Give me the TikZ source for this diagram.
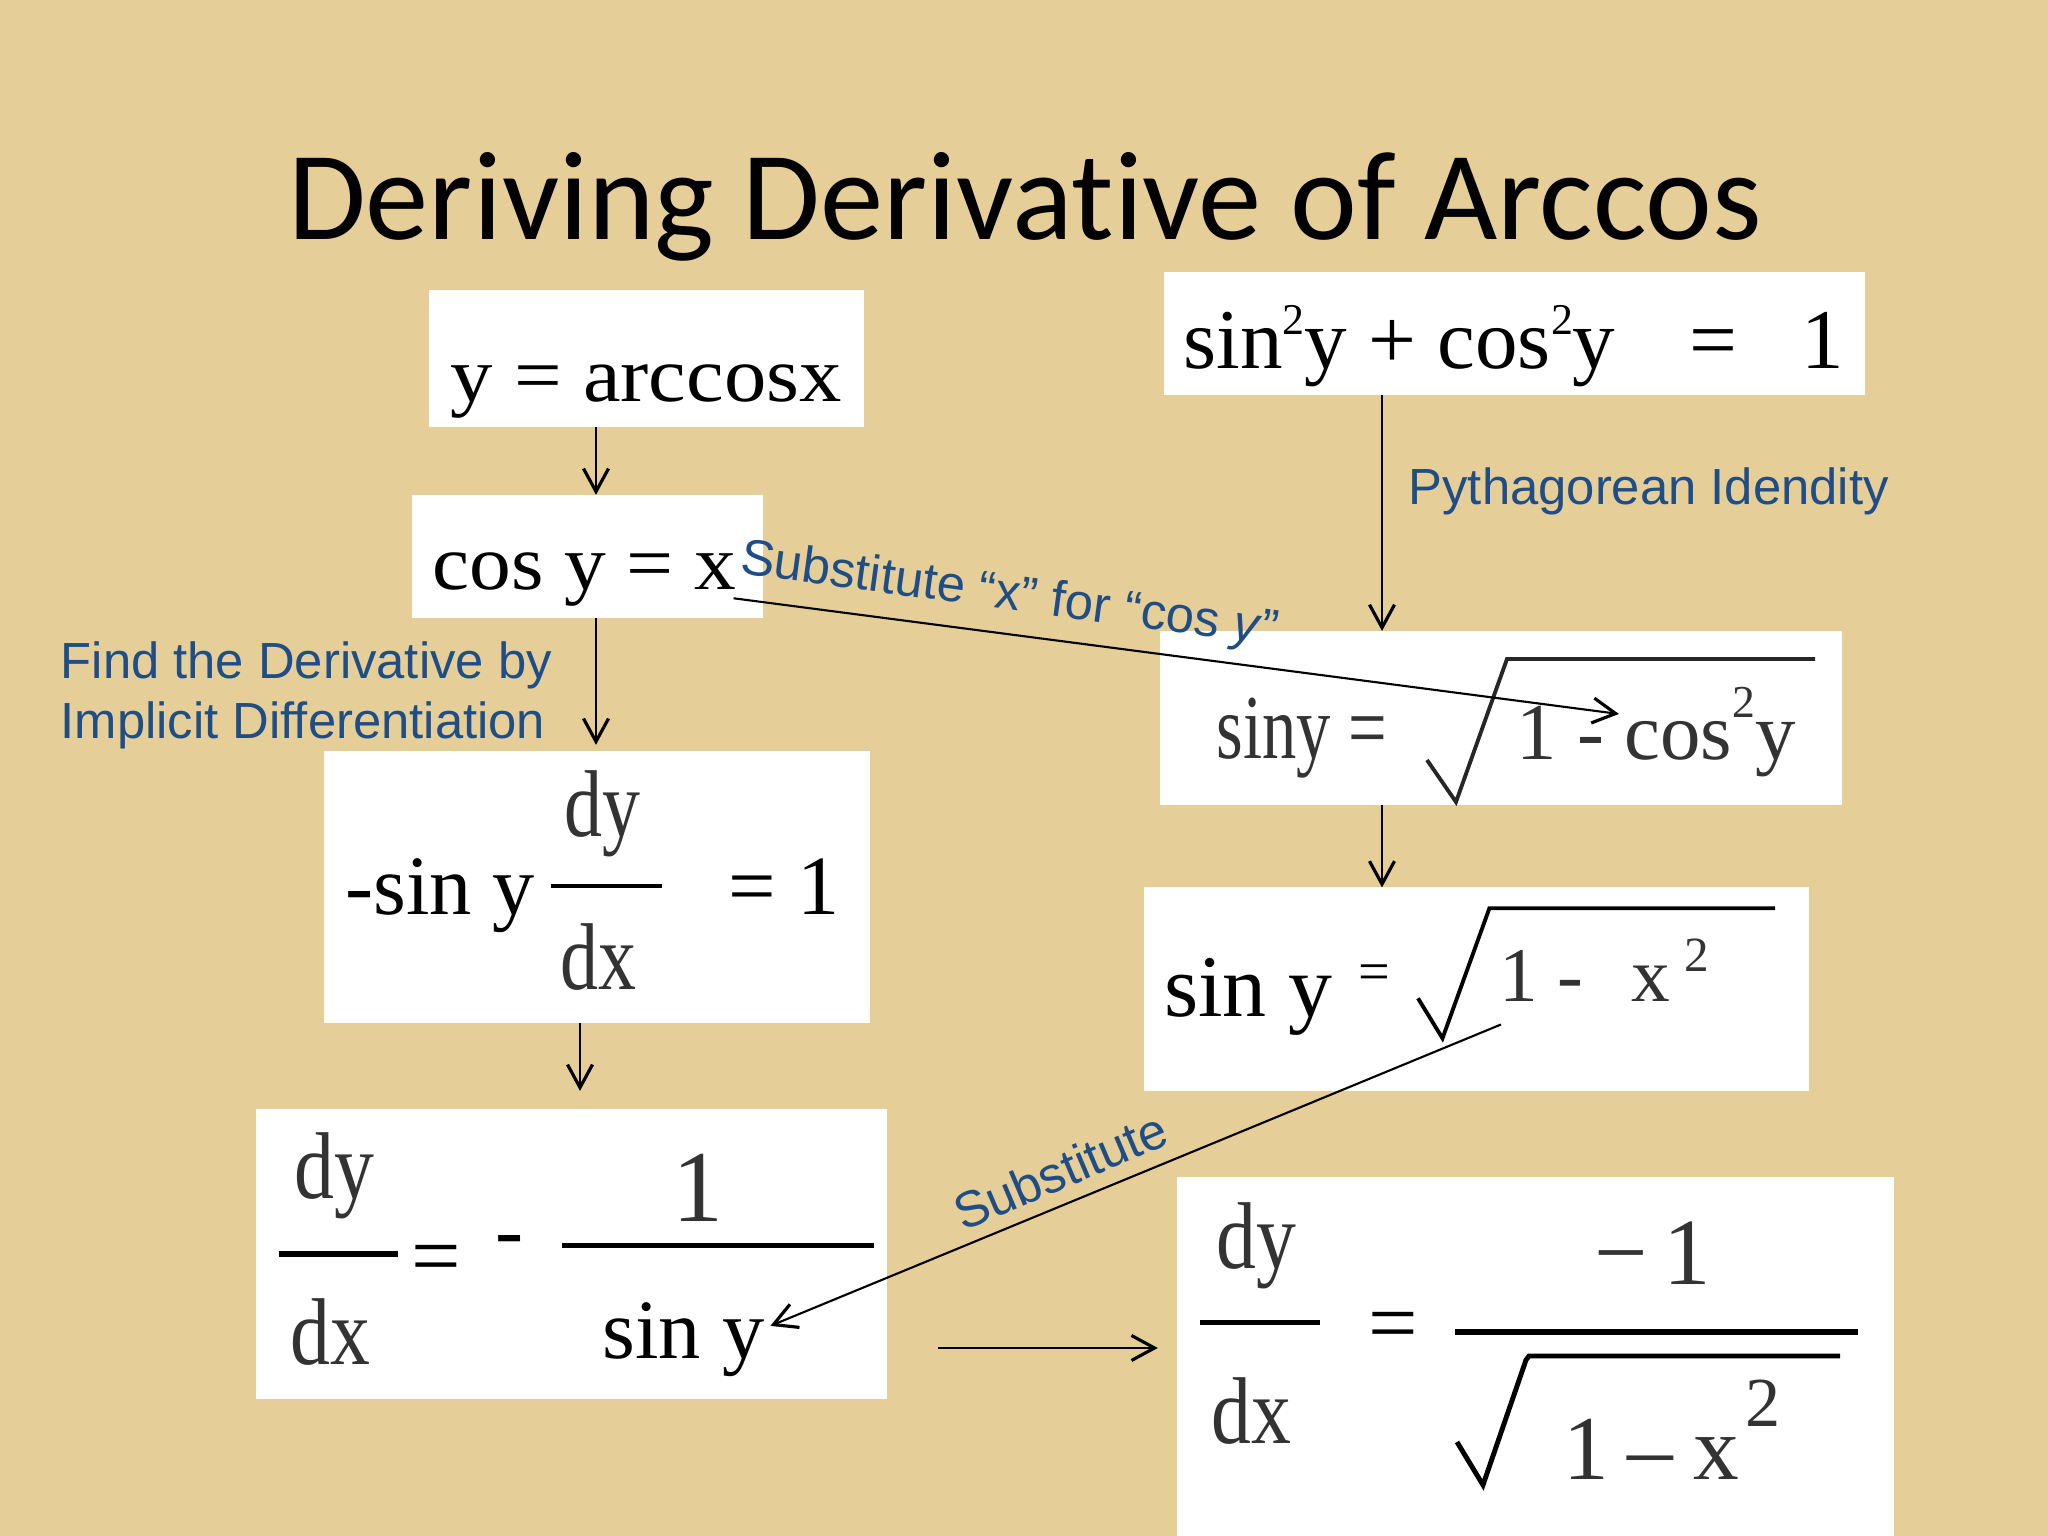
\documentclass[tikz,border=0pt]{standalone}
\usepackage{fontspec}
\setmainfont{Liberation Serif}
\newfontfamily\titlefont[Ligatures={NoCommon}, RawFeature={-liga;-clig;-dlig}]{Carlito}
\newfontfamily\labelfont{Liberation Sans}
\usetikzlibrary{arrows.meta}
\definecolor{paper}{RGB}{229,206,152}
\definecolor{lblblue}{RGB}{31,78,135}
\newcommand{\eqfs}[1]{\fontsize{#1}{#1}\selectfont}
\newcommand{\suptwo}[2]{\raisebox{#1}{\fontsize{#2}{#2}\selectfont 2}}
\tikzset{eqbox/.style={fill=white, inner sep=0pt, outer sep=0pt},
eqtext/.style={inner sep=0pt, anchor=base west},
frac/.style={inner sep=0pt, anchor=base, text=black!80},
lbl/.style={inner sep=0pt, anchor=base west, text=lblblue, font=\labelfont\eqfs{14.45}},
arr/.style={line width=0.6pt, -{Straight Barb[length=2.3mm,width=2.5mm,line width=0.9pt]}},
%default bar is 1.5pt
fracbar/.style={line width=#1},
fracbar/.default={1.5pt}}

\begin{document}
\begin{tikzpicture}

\useasboundingbox (0,0) rectangle (20.48,15.36);
\fill[paper] (0,0) rectangle (20.48,15.36);

\node[inner sep=0pt, anchor=base, font=\titlefont\eqfs{36}] (title) at (10.25,12.96) {Deriving Derivat\kern0pt ive of Arccos};

% left column
\node[eqbox, minimum width=4.35cm, minimum height=1.37cm] (arccos) at (6.46,11.775) {};
\node[eqbox, minimum width=3.51cm, minimum height=1.23cm] (cosx) at (5.871,9.796) {};
\node[eqbox, minimum width=5.46cm, minimum height=2.72cm] (implicit) at (5.969,6.491) {};
\node[eqbox, minimum width=6.31cm, minimum height=2.90cm] (result) at (5.714,2.821) {};
% right column
\node[eqbox, minimum width=7.01cm, minimum height=1.23cm] (pyth) at (15.14,12.02) {};
\node[eqbox, minimum width=6.82cm, minimum height=1.74cm] (sinroot) at (15.009,8.18) {};
\node[eqbox, minimum width=6.65cm, minimum height=2.04cm] (sinx) at (14.76,5.465) {};
\node[eqbox, minimum width=7.17cm, minimum height=3.59cm] (final) at (15.353,1.796) {};

\node[eqtext, font=\eqfs{22.2}] (arccostxt) at (4.50,11.343) {\scalebox{1.085}[1]{y = arccosx}};
\node[eqtext, font=\eqfs{22.2}] (cosxtxt) at (4.315,9.46) {\scalebox{1.07}[1]{cos y = x}};

% -sin y dy/dx = 1
\node[eqtext, font=\eqfs{24}] (implicittxt) at (3.445,6.21) {-sin y};
\draw[fracbar=1.1pt] (5.507,6.503) -- (6.617,6.503);
\node[frac, font=\eqfs{27}] (dy1) at (6.02,6.993) {\scalebox{0.8}[1]{dy}};
\node[frac, font=\eqfs{27}] (dx1) at (5.985,5.46) {\scalebox{0.8}[1]{dx}};
\node[eqtext, font=\eqfs{24}] (one1) at (7.28,6.21) {= 1};

% dy/dx = -1/sin y
\node[frac, font=\eqfs{27}] (dy2) at (3.343,3.377) {\scalebox{0.84}[1]{dy}};
\draw[fracbar] (2.79,2.82) -- (3.983,2.82);
\node[frac, font=\eqfs{27}] (dx2) at (3.30,1.71) {\scalebox{0.84}[1]{dx}};
\node[eqtext, font=\eqfs{25}] (eq2) at (4.11,2.503) {=};
\node[eqtext, font=\eqfs{24}] (minus2) at (4.947,2.773) {-};
\node[frac, font=\eqfs{29}] (one2) at (6.975,3.143) {1};
\draw[fracbar] (5.618,2.903) -- (8.74,2.903);
\node[eqtext, font=\eqfs{24}] (siny2) at (6.02,1.777) {sin y};

% identity
\node[eqtext, font=\eqfs{24.2}] (pythtxt) at (11.827,11.677) {sin\suptwo{0.4em}{12.5}y + cos\suptwo{0.4em}{12.5}y\hspace{0.74cm}=\hspace{0.64cm}1};

% sin y = root(1 - cos^2 y)
\node[eqtext, font=\eqfs{26}, text=black!80] (sinroottxt) at (12.16,7.777) {\scalebox{0.75}[1]{siny =}};
\draw[line width=1.1pt, black!85] (14.27,7.76) -- (14.56,7.34) -- (15.07,8.77) -- (18.15,8.77);
\node[eqtext, font=\eqfs{23}, text=black!80] (cos2txt) at (15.16,7.76) {1 - cos\suptwo{0.52em}{13}y};

% sin y = root(1 - x^2)
\node[eqtext, font=\eqfs{25}] (sinxtxt) at (11.635,5.193) {sin y};
\node[eqtext, font=\eqfs{16}] (eq3) at (13.58,5.45) {=};
\draw[line width=1.1pt] (14.18,5.377) -- (14.425,4.977) -- (14.894,6.277) -- (17.75,6.277);
\node[eqtext, font=\eqfs{22}, text=black!80] (x2txt) at (14.99,5.34) {1 -\hspace{0.48cm}x\hspace{0.14cm}\suptwo{0.39em}{14}};

% final result
\node[frac, font=\eqfs{27}] (dy3) at (12.568,2.677) {\scalebox{0.84}[1]{dy}};
\draw[fracbar] (12.00,2.137) -- (13.195,2.137);
\node[frac, font=\eqfs{27}] (dx3) at (12.51,0.927) {\scalebox{0.84}[1]{dx}};
\node[eqtext, font=\eqfs{25}] (eq4) at (13.674,1.83) {=};
\node[eqtext, font=\eqfs{27}, text=black!80] (mone) at (15.935,2.51) {\char"2212\,1};
\draw[fracbar=1.8pt] (14.55,2.043) -- (18.575,2.043);
\draw[line width=1.4pt] (14.57,0.94) -- (14.83,0.51) -- (15.26,1.76) -- (15.29,1.80) -- (18.40,1.80);
\node[eqtext, font=\eqfs{26}, text=black!80] (onex) at (15.63,0.56) {1\hspace{0.18cm}–\hspace{0.2cm}x};
\node[eqtext, font=\eqfs{20}, text=black!80] (sq4) at (17.45,1.093) {2};

% labels
\node[lbl] (pythlbl) at (14.08,10.31) {Pythagorean Idendity};
\node[lbl] (findlbl) at (0.60,8.577) {Find the Derivative by};
\node[lbl] (findlbl2) at (0.60,7.97) {Implicit Differentiation};
\node[lbl, rotate=-7.7] (sublbl) at (7.385,9.627) {Substitute “x” for “cos \textit{y}”};
\node[lbl, rotate=23] (sublbl2) at (9.63,3.043) {Substitute};

% arrows
\coordinate (colL) at (5.96,0);
\coordinate (colM) at (5.80,0);
\coordinate (colR) at (13.82,0);
\coordinate (rowH) at (0,1.88);
\draw[arr] (arccos.south -| colL) -- (cosx.north -| colL);
\draw[arr, shorten >=0.6mm] (cosx.south -| colL) -- (implicit.north -| colL);
\draw[arr, shorten >=1.8mm] (implicit.south -| colM) -- (result.north -| colM);
\draw[arr] (pyth.south -| colR) -- (sinroot.north -| colR);
\draw[arr] (sinroot.south -| colR) -- (sinx.north -| colR);
\draw[arr, shorten <=5.1mm, shorten >=1.9mm] (result.east |- rowH) -- (final.west |- rowH);
\draw[arr] ([shift={(-0.29,0.196)}]cosx.south east) -- ([shift={(1.18,0.04)}]sinroot.center);
\draw[arr] ([shift={(0.25,-0.35)}]sinx.center) -- ([shift={(1.99,-0.72)}]result.center);

\end{tikzpicture}
\end{document}
